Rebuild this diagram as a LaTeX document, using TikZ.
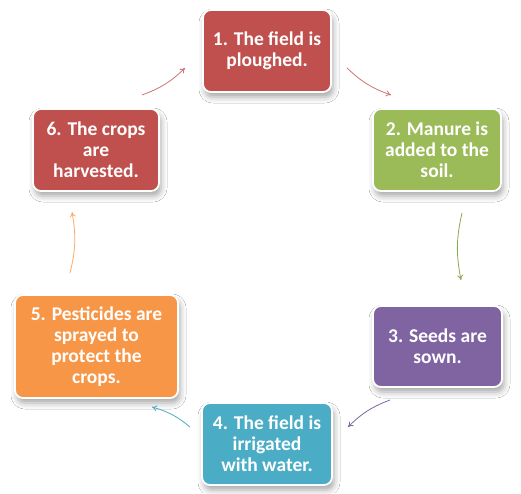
\documentclass[tikz,border=0pt]{standalone}
\usepackage{fontspec}
\setmainfont{Carlito}
\usetikzlibrary{shadows.blur,arrows.meta}
\definecolor{cred}{HTML}{C0504D}
\definecolor{cgreen}{HTML}{9BBB59}
\definecolor{cpurple}{HTML}{8064A2}
\definecolor{cteal}{HTML}{4BACC6}
\definecolor{corange}{HTML}{F79646}
\tikzset{
  stepbox/.style={rounded corners=8pt, draw=white, line width=1.8pt, align=center,
    text=white, font=\fontsize{19.5}{21}\selectfont\bfseries, inner sep=1pt,
    blur shadow={shadow xshift=2pt, shadow yshift=-5pt, shadow blur radius=6pt, shadow opacity=35}},
  flow/.style={-{To[length=5pt,width=6pt]}, line width=0.8pt, bend right=12}
}
\begin{document}
\begin{tikzpicture}[x=1pt,y=-1pt]
\useasboundingbox[fill=white] (0,0) rectangle (521,493);
\node[stepbox, fill=cred, minimum width=128pt, minimum height=82pt] (n1) at (267,51) {1. The field is\\ploughed.};
\node[stepbox, fill=cgreen, minimum width=128pt, minimum height=82pt] (n2) at (437,150) {2. Manure is\\added to the\\soil.};
\node[stepbox, fill=cpurple, minimum width=129pt, minimum height=81pt] (n3) at (437.5,346.5) {3. Seeds are\\sown.};
\node[stepbox, fill=cteal, minimum width=130pt, minimum height=82pt] (n4) at (267,444) {4. The field is\\irrigated\\with water.};
\node[stepbox, fill=corange, minimum width=163pt, minimum height=103pt] (n5) at (96.5,346.5) {5. Pesticides are\\sprayed to\\protect the\\crops.};
\node[stepbox, fill=cred, minimum width=126pt, minimum height=82pt] (n6) at (96,150) {6. The crops\\are\\harvested.};
\coordinate (a1s) at (347,68); \coordinate (a1e) at (391,95);
\coordinate (a2s) at (462,213); \coordinate (a2e) at (461,280);
\coordinate (a3s) at (390,400); \coordinate (a3e) at (348,427);
\coordinate (a4s) at (190,427); \coordinate (a4e) at (152,407);
\coordinate (a5s) at (70,273); \coordinate (a5e) at (72,212);
\coordinate (a6s) at (142,95); \coordinate (a6e) at (185,68);
\draw[flow, draw=cred!80] (a1s) to (a1e);
\draw[flow, draw=cgreen!90!black] (a2s) to (a2e);
\draw[flow, draw=cpurple] (a3s) to (a3e);
\draw[flow, draw=cteal] (a4s) to (a4e);
\draw[flow, draw=corange!80] (a5s) to (a5e);
\draw[flow, draw=cred!80] (a6s) to (a6e);
\end{tikzpicture}
\end{document}
